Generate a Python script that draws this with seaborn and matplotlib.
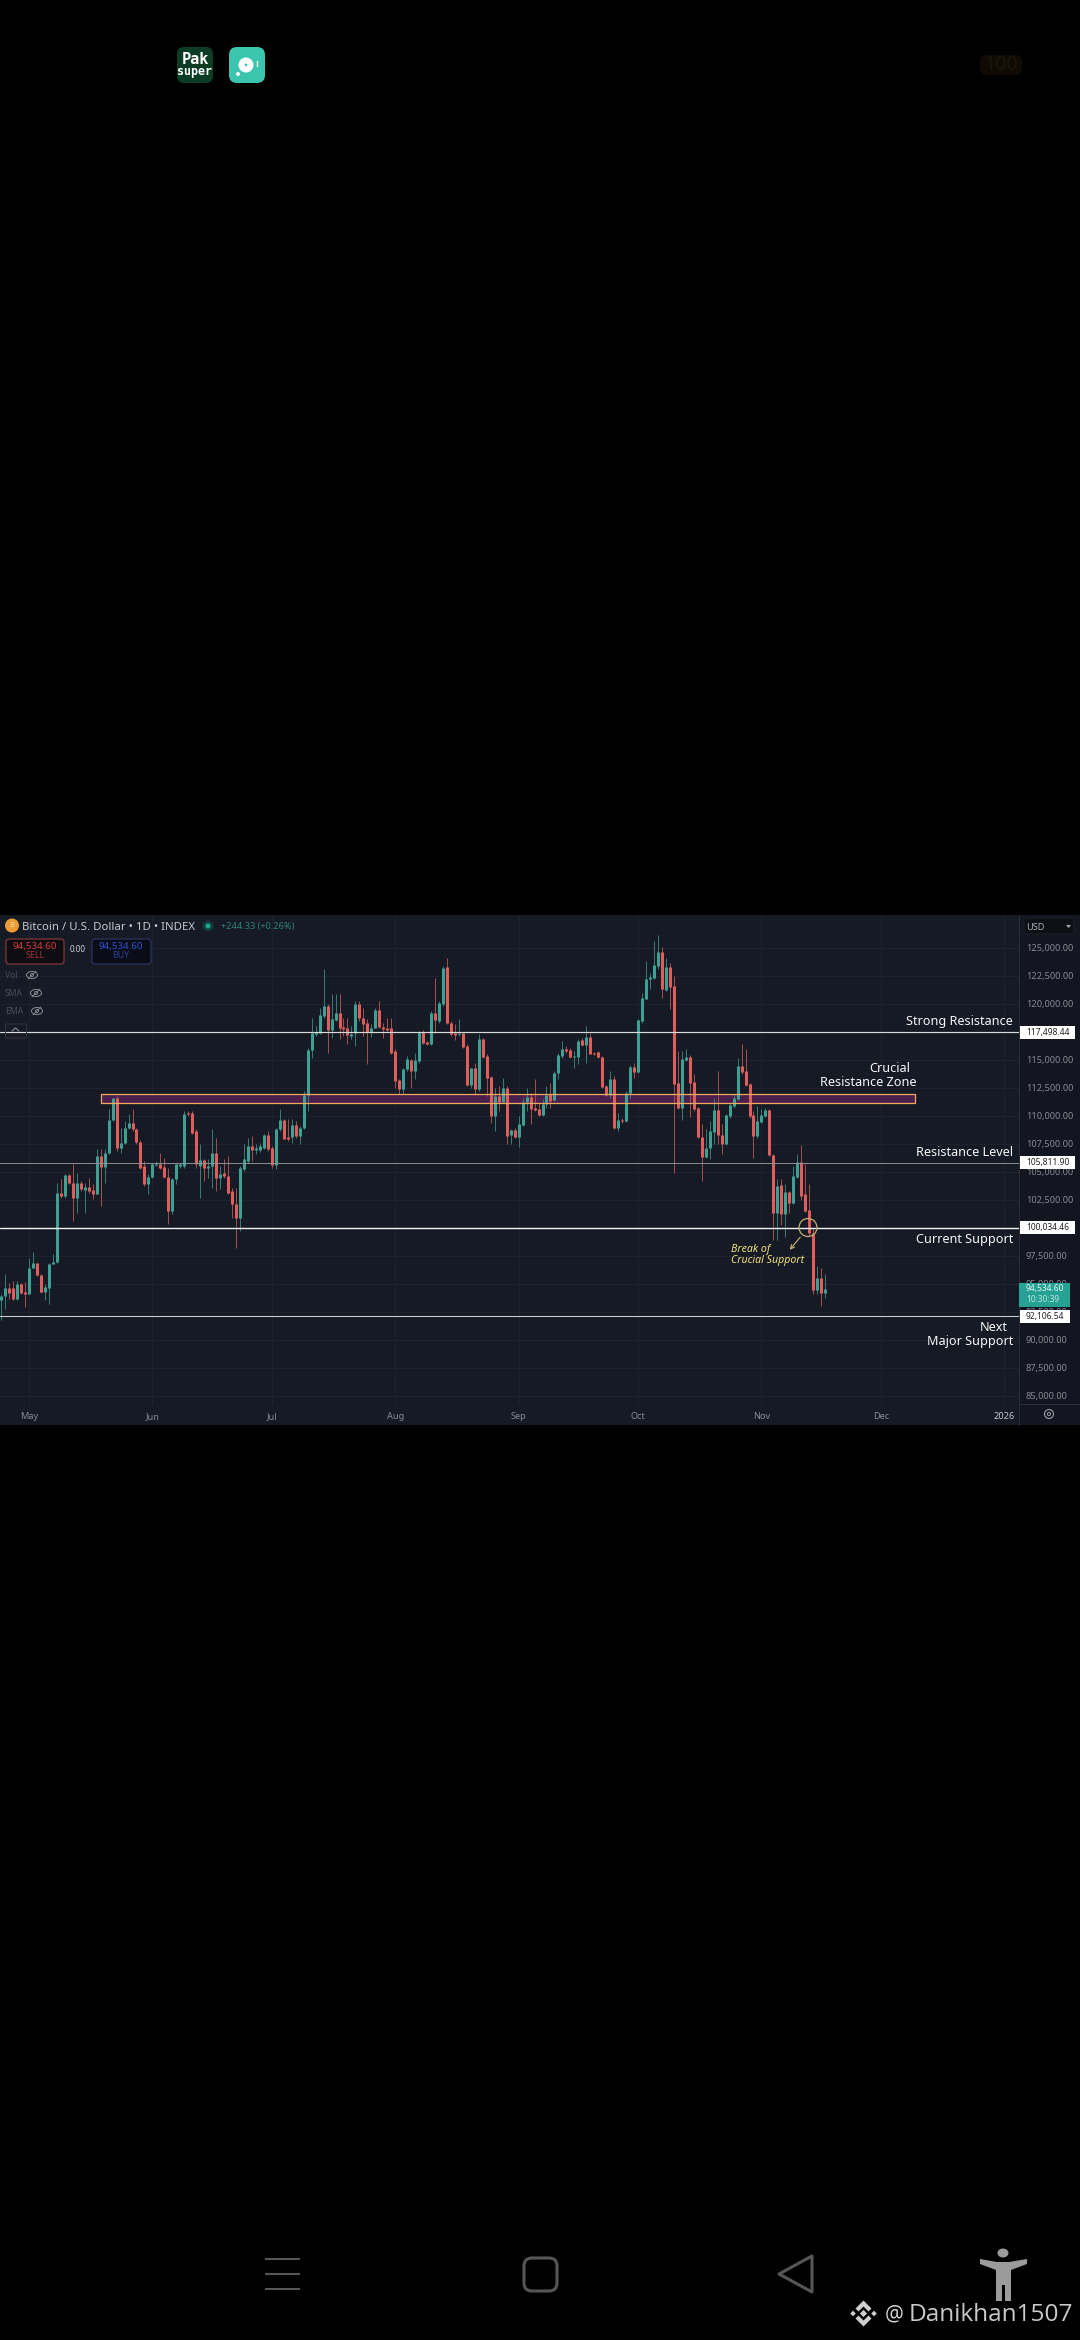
import numpy as np
import pandas as pd
import matplotlib
matplotlib.use("Agg")
import matplotlib.pyplot as plt
from matplotlib.patches import Rectangle, Circle, FancyBboxPatch, Polygon, Ellipse
import seaborn as sns

START_DATE = "2025-04-24"
opens = [93600,93900,94620,94620,93660,94970,94260,94140,96400,96880,
         95810,94320,94680,96760,96970,103100,102860,104730,104050,102710,
         104050,103400,103660,103400,103040,106430,105450,106730,109620,111640,
         107120,107620,108960,109410,108810,107710,105540,103900,104560,105630,
         105750,105450,104560,101520,104350,105540,105540,110300,110300,108660,
         105540,106040,105390,105540,106730,104500,104940,104650,103310,102180,
         100930,105240,105980,107290,106940,106940,107120,108310,107120,105630,
         108810,109620,108130,108130,109200,108190,108900,111880,115860,117350,
         117440,118930,119820,117650,118540,119230,117950,117890,117170,117440,
         119970,118720,118330,117500,117890,119440,117950,117890,117830,115800,
         113190,112440,114170,115000,114020,114910,117500,116610,116400,119230,
         118480,119970,123300,118330,117440,117290,117410,116250,112740,114260,
         112380,116850,115360,113480,110000,111790,111280,112530,108310,108750,
         108130,109200,111280,111700,110750,110600,110090,111040,111940,111400,
         113810,115360,116010,115860,115270,115300,116760,116340,117060,115660,
         115720,115300,112680,111880,113340,108900,109620,109560,112090,114410,
         113930,118480,120480,122200,122350,123390,124640,121250,123300,121610,
         112980,110690,115000,115270,113040,110750,108130,106340,107120,108600,
         110540,108310,107530,110000,110890,111520,114470,114020,112830,110060,
         108220,109500,110000,110570,106520,101370,103810,101220,103220,102210,
         104590,105890,103010,101580,99590,94440,95510,94230]
highs = [94080,95870,95120,95270,95270,95120,95210,97350,97890,96910,
         95870,94970,96910,97650,104050,104350,104790,104790,105690,104940,
         104200,104050,104500,103900,107030,107030,107030,110600,111640,111790,
         108960,109560,110150,110600,108960,107830,105980,104790,105830,105980,
         106730,106280,105390,104500,105830,105830,110450,110450,110450,108810,
         107470,106130,106130,108810,108070,105540,106130,106430,103600,103600,
         105540,107470,108070,108220,107470,107620,108420,108660,107320,108960,
         110600,109700,109700,109700,109560,109110,112230,116100,118780,118040,
         119670,123100,119970,120860,120860,120860,118780,118780,118040,120270,
         120270,119670,118630,118190,119670,120270,118330,118780,118780,115950,
         113280,114320,115360,115060,115660,117590,117650,116700,119380,122350,
         120270,123390,124140,118480,118190,118630,117440,116400,114320,114760,
         117350,117000,115510,113570,112530,112680,113420,112680,108810,108960,
         110000,111640,112530,112090,113340,111190,111490,112680,112980,114020,
         115660,116700,116250,116100,115800,116850,117000,118040,117440,115750,
         115800,115360,112770,114020,113570,110300,109850,112230,114530,114760,
         118630,121010,123840,122800,125630,126160,125090,124140,123690,122500,
         115800,115800,115950,115450,113720,110800,109260,108810,109560,111640,
         114020,109260,110150,111190,112000,115210,116400,115950,112980,110450,
         110890,110600,110750,110630,106640,104350,104350,103960,103310,105540,
         106580,107410,105690,103900,100030,96610,96460,95920]
lows = [91760,92740,93630,93540,93540,94080,92950,94140,96400,95720,
        94230,93570,93190,96760,96910,102710,102710,103900,100630,101370,
        103310,101370,103160,102560,103010,101970,104050,106580,109560,106880,
        106730,107470,108810,108660,107470,105240,103750,103070,104500,105540,
        105240,104500,100330,101220,103900,105390,105390,110000,108370,105390,
        102710,104200,104500,103600,103310,103450,104500,103010,100930,98190,
        99730,105090,105830,105980,106580,106820,107030,106880,105390,105240,
        108660,107920,107770,107620,108070,107470,108810,110450,115210,117140,
        117290,118780,115660,117000,118480,116850,117140,116400,116850,116250,
        118480,117140,114610,117060,117830,117830,117000,117590,115510,112530,
        111940,111940,114020,112530,113280,114760,116400,116310,116310,117440,
        118330,119820,118190,117140,116760,117140,116100,112680,112530,111940,
        112230,115210,111790,109410,108660,110450,111190,107470,107470,108010,
        107230,109110,110450,109260,110450,110000,110000,110750,110750,111340,
        113280,115210,115660,115210,114320,114610,116250,114760,115510,115450,
        115210,112530,111790,111640,108810,108660,109410,109500,111640,113420,
        113870,118330,120420,121310,122200,123100,120570,121160,119580,104940,
        110600,109620,114910,109910,110450,108070,104200,106280,106130,107470,
        107470,106580,107410,109850,110750,111400,113720,112680,109850,106280,
        108070,109410,109910,106430,98900,98900,100270,99200,101370,102120,
        104500,102470,101460,99290,94080,94080,93040,93780]
closes = [93930,94620,94230,93660,94970,94200,94140,96400,96880,95810,
          94320,94740,96760,96970,103160,102860,104730,104050,102710,104050,
          103450,103660,103310,103040,106430,105450,106730,109620,111640,107120,
          107620,108960,109410,108810,107710,105390,103900,104560,105690,105750,
          105330,104560,101520,104350,105690,105690,110210,110150,108510,105690,
          106040,105390,105540,106730,104500,104850,104650,103160,102120,100930,
          105390,106130,107290,106940,107120,107320,108310,107030,105630,108810,
          109620,107980,107980,109200,108190,108900,111880,115860,117440,117500,
          118990,119820,117650,118630,119230,117890,117740,117230,117350,119970,
          118720,118250,117500,117890,119440,117950,117740,117710,115660,113130,
          112440,114170,115060,114020,115000,117500,116550,116400,119230,118540,
          120120,123250,118280,117350,117230,117440,116160,112740,114260,112380,
          116850,115300,113420,110000,111790,111280,112530,108220,108750,108130,
          109260,111280,111700,110600,110510,110090,111100,111880,111340,113810,
          115450,115950,115800,115270,115360,116700,116340,117060,115570,115570,
          115270,112620,111880,113340,108900,109620,109560,112090,114410,113930,
          118570,120510,122200,122410,123450,124640,121310,123300,121520,112890,
          110690,115060,115270,112980,110660,108130,106340,107170,108660,110540,
          108310,107530,110060,110950,111580,114470,113930,112770,110000,108220,
          109560,110060,110570,106520,101370,103750,101220,103220,102210,104650,
          105890,102860,101520,99590,94440,95510,94230,94534.6]

price_ticks = [85000,87500,90000,92500,95000,97500,100000,102500,105000,107500,110000,
               112500,115000,117500,120000,122500,125000]
month_dates = ["2025-05-01","2025-06-01","2025-07-01","2025-08-01","2025-09-01","2025-10-01",
               "2025-11-01","2025-12-01","2026-01-01"]
month_labels = ["May","Jun","Jul","Aug","Sep","Oct","Nov","Dec","2026"]
levels = [117498.44, 105811.90, 100034.46, 92106.54]
level_tags = ["117,498.44","105,811.90","100,034.46","92,106.54"]
zone_low, zone_high = 111200, 111960
zone_start, zone_end = "2025-05-19", "2025-12-09"
last_price_text = "94,534.60"

GREEN, RED = "#3f9f92", "#dc5f5e"
GREEN_W, RED_W = "#367f76", "#a85050"
PANEL = "#161a25"
SCALE = "#131620"
GRID = "#20242f"
TICKC = "#878b94"

sns.set_theme(style="dark", rc={"figure.facecolor": "black", "axes.facecolor": PANEL,
                                "axes.edgecolor": PANEL, "savefig.facecolor": "black"})
plt.rcParams["font.family"] = ["Noto Sans", "DejaVu Sans"]

W, H = 1080, 2340
fig = plt.figure(figsize=(W / 100, H / 100), dpi=100, facecolor="black")

# full-figure canvases in pixel units
bg = fig.add_axes([0, 0, 1, 1], zorder=0); bg.set_xlim(0, W); bg.set_ylim(H, 0); bg.axis("off")
bg.add_patch(Rectangle((0, 915), W, 510, fc=PANEL, ec="none"))
bg.add_patch(Rectangle((1019, 915), 61, 510, fc=SCALE, ec="none"))
bg.plot([1019, 1019], [915, 1425], color="#2a2e39", lw=0.7)
bg.plot([0, 1080], [1404, 1404], color="#2a2e39", lw=0.7)

X0, X1, Y0, Y1 = 0, 1019, 916, 1405
ax = fig.add_axes([X0 / W, 1 - Y1 / H, (X1 - X0) / W, (Y1 - Y0) / H], zorder=1)

dates = pd.date_range(START_DATE, periods=len(opens))
ref = pd.Timestamp("2025-05-01")
day = np.asarray((dates - ref).days)
frame = pd.DataFrame({"day": day, "open": opens, "high": highs, "low": lows, "close": closes})
frame["dir"] = np.where(frame["close"] >= frame["open"], "up", "down")

wicks = pd.concat([frame[["day", "dir"]].assign(price=frame["low"]),
                   frame[["day", "dir"]].assign(price=frame["high"])])
bodies = pd.concat([frame[["day", "dir"]].assign(price=frame["open"]),
                    frame[["day", "dir"]].assign(price=frame["close"])])

sns.lineplot(data=wicks, x="day", y="price", hue="dir", units="day", estimator=None, sort=False,
             palette={"up": GREEN_W, "down": RED_W}, linewidth=0.7, legend=False, ax=ax,
             solid_capstyle="butt", zorder=3)
sns.lineplot(data=bodies, x="day", y="price", hue="dir", units="day", estimator=None, sort=False,
             palette={"up": GREEN, "down": RED}, linewidth=2.2, legend=False, ax=ax,
             solid_capstyle="butt", zorder=4)

ax.set_xlim(-7.29, 248.7)
ax.set_ylim(84196, 127857)
ax.set_xlabel(""); ax.set_ylabel("")
ax.set_yticks(price_ticks)
ax.set_yticklabels([f"{p:,.2f}" for p in price_ticks], fontsize=6.6, color=TICKC)
ax.yaxis.tick_right()
month_days = [(pd.Timestamp(d) - ref).days for d in month_dates]
ax.set_xticks(month_days)
ax.set_xticklabels(month_labels, fontsize=6.6, color=TICKC)
ax.get_xticklabels()[-1].set_color("#c4c6cc")
ax.get_xticklabels()[-1].set_fontweight("bold")
ax.tick_params(axis="y", length=0, pad=5)
ax.tick_params(axis="x", length=0, pad=5)
ax.grid(True, color=GRID, lw=0.6, zorder=0)
ax.set_axisbelow(True)
for s in ax.spines.values():
    s.set_visible(False)

zs = (pd.Timestamp(zone_start) - ref).days
ze = (pd.Timestamp(zone_end) - ref).days + 0.6
ax.add_patch(Rectangle((zs, zone_low), ze - zs, zone_high - zone_low, fc="#4a1f4c", ec="none", zorder=2))
ax.add_patch(Rectangle((zs, zone_low), ze - zs, zone_high - zone_low, fc="none", ec="#f0aa62", lw=0.9, zorder=5))

level_colors = ["#d9d9d9", "#8e8f93", "#f2f2f2", "#c9c9c9"]
level_widths = [0.85, 0.7, 1.0, 0.8]
for lv, c, lw in zip(levels, level_colors, level_widths):
    ax.axhline(lv, color=c, lw=lw, zorder=5)

ov = fig.add_axes([0, 0, 1, 1], zorder=2); ov.set_xlim(0, W); ov.set_ylim(H, 0); ov.axis("off")
ov.patch.set_alpha(0)


def y_of(price):
    return 948 + (125000 - price) * 0.0112


# price-scale tags
for lv, tag, right in zip(levels, level_tags, [1075, 1075, 1075, 1070]):
    y = y_of(lv)
    ov.add_patch(Rectangle((1020, y - 6.5), right - 1020, 13, fc="white", ec="none"))
    ov.text(1026, y, tag, fontsize=6.1, color="#222", va="center", ha="left")
ov.add_patch(Rectangle((1019, 1283), 51, 24, fc="#26a295", ec="none"))
ov.text(1026, 1289, last_price_text, fontsize=6.1, color="#e6f4f2", va="center", ha="left")
ov.text(1026, 1300, "10:30:39", fontsize=6.0, color="#bfe3de", va="center", ha="left")
ov.add_patch(FancyBboxPatch((1024, 918), 50, 16, boxstyle="round,pad=0,rounding_size=2", fc="#0e1016", ec="#20232c", lw=0.6))
ov.text(1026, 927, "USD", fontsize=6.6, color="#a8abb3", va="center", ha="left")
ov.add_patch(Polygon([[1066, 925], [1071, 925], [1068.5, 928]], fc="#a8abb3", ec="none"))
ov.add_patch(Circle((1049, 1414), 4.5, fc="none", ec="#9a9da5", lw=0.8))
ov.add_patch(Circle((1049, 1414), 1.6, fc="none", ec="#9a9da5", lw=0.7))

# header
ov.add_patch(Circle((12, 925.5), 7, fc="#eb9d35", ec="none"))
ov.text(12, 925.5, "B", fontsize=5.5, color="#f8dca8", ha="center", va="center")
ov.text(22, 927, "Bitcoin / U.S. Dollar • 1D • INDEX", fontsize=8.2, color="#c6c8ce", va="center", ha="left")
ov.add_patch(Circle((208, 926), 5.5, fc="#123a38", ec="none"))
ov.add_patch(Circle((208, 926), 2.6, fc="#22a08e", ec="none"))
ov.text(221, 927, "+244.33 (+0.26%)", fontsize=6.6, color="#2c8578", va="center", ha="left")
ov.add_patch(FancyBboxPatch((6, 939), 58, 25, boxstyle="round,pad=0,rounding_size=3", fc="#0e0e12", ec="#8e3b3d", lw=0.8))
ov.text(35, 946, last_price_text, fontsize=7, color="#d33a3c", weight="bold", ha="center", va="center")
ov.text(35, 956, "SELL", fontsize=6.4, color="#a83234", ha="center", va="center")
ov.text(78, 950, "0.00", fontsize=5.8, color="#d2d3d6", ha="center", va="center")
ov.add_patch(FancyBboxPatch((92, 939), 59, 25, boxstyle="round,pad=0,rounding_size=3", fc="#0a0d18", ec="#2c3a66", lw=0.8))
ov.text(121, 946, last_price_text, fontsize=7, color="#2f52cf", weight="bold", ha="center", va="center")
ov.text(121, 956, "BUY", fontsize=6.4, color="#273f90", ha="center", va="center")
for name, y, ex in zip(["Vol", "SMA", "EMA"], [975, 993, 1011], [32, 36, 37]):
    ov.text(5, y, name, fontsize=6.2, color="#4b4e56", va="center", ha="left")
    ov.add_patch(Ellipse((ex, y), 11, 7, fc="none", ec="#8a8c92", lw=0.7))
    ov.add_patch(Circle((ex, y), 1.6, fc="none", ec="#8a8c92", lw=0.6))
    ov.plot([ex - 4, ex + 4], [y + 4, y - 4], color="#8a8c92", lw=0.6)
ov.add_patch(FancyBboxPatch((5.5, 1024), 21, 14, boxstyle="round,pad=0,rounding_size=1", fc="none", ec="#33363f", lw=0.7))
ov.plot([12, 15.5, 19], [1031, 1028, 1031], color="#8a8c92", lw=0.8)

# chart annotations
AN = dict(color="#f6f6f6", fontsize=9.1, va="center", weight="medium")
ov.text(1013, 1021, "Strong Resistance", ha="right", **AN)
ov.text(890, 1068, "Crucial", ha="center", **AN)
ov.text(916, 1082.5, "Resistance Zone", ha="right", **AN)
ov.text(1013, 1152, "Resistance Level", ha="right", **AN)
ov.text(1013, 1239, "Current Support", ha="right", **AN)
ov.text(1008, 1327.5, "Next", ha="right", **AN)
ov.text(1013, 1342, "Major Support", ha="right", **AN)
BR = dict(color="#f0e07c", fontsize=7.6, style="italic", va="center", ha="left", weight="medium")
ov.text(731, 1249.5, "Break of", **BR)
ov.text(731, 1260, "Crucial Support", **BR)
ov.add_patch(Circle((808, 1227.5), 9, fc="none", ec="#c9ad72", lw=0.9))
ov.annotate("", xy=(788, 1252), xytext=(802, 1235),
            arrowprops=dict(arrowstyle="->", color="#c9b473", lw=0.8, mutation_scale=7))

# top status icons
ov.add_patch(FancyBboxPatch((177, 47), 36, 36, boxstyle="round,pad=0,rounding_size=7", fc="#0c3d24", ec="none"))
ov.text(195, 59, "Pak", fontsize=11, weight="bold", color="white", ha="center", va="center", family="DejaVu Sans Mono")
ov.text(195, 72, "super", fontsize=8.4, weight="bold", color="white", ha="center", va="center", family="DejaVu Sans Mono")
ov.add_patch(FancyBboxPatch((229, 47), 36, 36, boxstyle="round,pad=0,rounding_size=8", fc="#3cc5ae", ec="none"))
ov.add_patch(Circle((246, 65), 7.5, fc="white", ec="none"))
ov.add_patch(Circle((246, 65), 1.4, fc="#3cc5ae", ec="none"))
ov.add_patch(Circle((238, 74), 2, fc="white", ec="none"))
ov.plot([257, 257], [61, 66], color="white", lw=1)
ov.add_patch(FancyBboxPatch((980, 55), 42, 20, boxstyle="round,pad=0,rounding_size=6", fc="#0f0a04", ec="none"))
ov.text(1001, 65, "100", fontsize=14, color="#1e1509", ha="center", va="center", weight="bold")

# bottom navigation
NAV = "#565656"
for y in [2259, 2274, 2289]:
    ov.plot([265, 300], [y, y], color=NAV, lw=1.5, solid_capstyle="butt")
ov.add_patch(FancyBboxPatch((524, 2258), 33, 33, boxstyle="round,pad=0,rounding_size=8", fc="none", ec=NAV, lw=2.2))
ov.add_patch(Polygon([[812, 2256], [812, 2292], [779, 2274]], closed=True, fc="none", ec=NAV, lw=2.2, joinstyle="round"))
PERSON = "#9b9b9b"
ov.add_patch(Ellipse((1003, 2253), 11, 9, fc=PERSON, ec="none"))
ov.add_patch(Polygon([[980, 2259], [997, 2262], [1009, 2262], [1027, 2259], [1027, 2264], [1011, 2270],
                      [1011, 2301], [1005, 2301], [1005, 2285], [1002, 2285], [1002, 2301], [996, 2301],
                      [996, 2270], [980, 2264]], closed=True, fc=PERSON, ec="none"))
LOGO = "#cfcfcf"
lx, ly = 863.5, 2313.5
chevron = [(0, -13), (8, -5), (5, -2), (0, -7), (-5, -2), (-8, -5)]
ov.add_patch(Polygon([(lx + a, ly + b) for a, b in chevron], closed=True, fc=LOGO, ec="none"))
ov.add_patch(Polygon([(lx + a, ly - b) for a, b in chevron], closed=True, fc=LOGO, ec="none"))
for cx, s in [(lx - 10.5, 2.8), (lx + 10.5, 2.8), (lx, 3.6)]:
    ov.add_patch(Polygon([[cx, ly - s], [cx + s, ly], [cx, ly + s], [cx - s, ly]], closed=True, fc=LOGO, ec="none"))
ov.text(885, 2315, "@", fontsize=15, color="#d4d4d4", ha="left", va="center", family="Open Sans")
ov.text(909, 2315, "Danikhan1507", fontsize=17.6, color="#c9c9c9", ha="left", va="center", family="Open Sans")

fig.savefig("out.png", dpi=100, facecolor="black")
